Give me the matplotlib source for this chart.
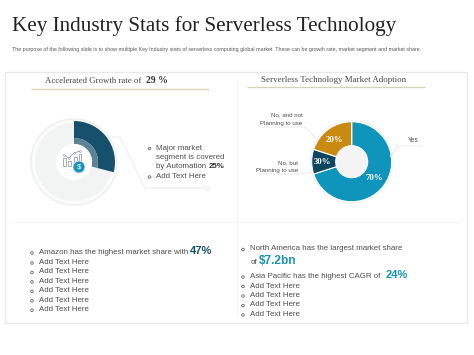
import matplotlib
matplotlib.use('Agg')
import matplotlib.pyplot as plt
from matplotlib.patches import Circle, Rectangle

W, H = 474, 355

# values
growth_values = [29, 71]
adoption_values = [70, 10, 20]
adoption_labels = ['70%', '30%', '20%']
adoption_colors = ['#0f94bb', '#0e4660', '#c98a12']
left_top = ['Major market', 'segment is covered', 'by Automation']
left_bottom = ['Add Text Here'] * 6
right_bottom = ['Add Text Here'] * 4

GREY = '#4d4d4d'
DARK = '#17506c'
BLUE = '#1b93b5'

fig = plt.figure(figsize=(W / 100, H / 100), dpi=100)
ax = fig.add_axes([0, 0, 1, 1])
SANS = 'Liberation Sans'
SERIF = 'Liberation Serif'


def yy(y):
    # picture y (from top) to axes y
    return H - y


def txt(x, y, s, size=5.65, color=GREY, family=SANS, **kw):
    kw.setdefault('va', 'center')
    return ax.text(x, yy(y), s, fontsize=size, color=color, family=family, **kw)


def bullet(x, y):
    ax.add_patch(Circle((x, yy(y)), 1.3, fc='white', ec='#666666', lw=0.6, zorder=4))


def line(xs, ys, color='#eeeeee', lw=0.8):
    ax.plot(xs, [yy(v) for v in ys], color=color, lw=lw, solid_capstyle='butt')


# title
txt(12, 26.5, 'Key Industry Stats for Serverless Technology', size=15.25, color='#222222', family=SERIF)
txt(12, 49.5, 'The purpose of the following slide is to show multiple Key Industry stats of serverless computing global market. '
    'These can be growth rate, market segment and market share.', size=3.75, color='#555555')

# panel and dividers
ax.add_patch(Rectangle((5.5, yy(323)), 461.5, 251.5, fc='white', ec='#e8e8e8', lw=0.9))
line([237, 237], [80, 315], color='#f5f5f5')
line([12, 460], [222, 222], color='#f5f5f5')

# panel headings
txt(45, 81, 'Accelerated Growth rate of', size=6.3, color='#444444', family=SERIF)
txt(146, 80.5, '29 %', size=7, color='#333333', family=SERIF, fontweight='bold')
line([31, 209], [88.5, 88.5], color='#d8d2b0', lw=0.9)
txt(261, 80.5, 'Serverless Technology Market Adoption', size=6.4, color='#444444', family=SERIF)
line([247, 425], [87, 87], color='#d8d2b0', lw=0.9)

# left donut
lx, ly = 74, 162
ax.add_patch(Circle((lx, yy(ly)), 43, fc='#fbfbfb', ec='#eeeeee', lw=1))
ax.add_patch(Circle((lx, yy(ly)), 39, fc='#f2f3f3', ec='none'))
ax.pie(growth_values, colors=[DARK, 'none'], startangle=90, counterclock=False,
       center=(lx, yy(ly)), radius=41, frame=True, wedgeprops=dict(width=17, lw=0))
ax.pie(growth_values, colors=['#5c8496', 'none'], startangle=90, counterclock=False,
       center=(lx, yy(ly)), radius=24, frame=True, wedgeprops=dict(width=6, lw=0))
ax.add_patch(Circle((lx, yy(ly)), 18, fc='white', ec='none', zorder=3))

# chart icon in the hole
for bx, bh in zip([64.5, 69.5, 75.5, 80], [8, 5, 9, 12]):
    ax.add_patch(Rectangle((bx - 1.3, yy(165.5)), 2.6, bh, fc='white', ec='#8a8f94', lw=0.5, zorder=4))
ax.plot([64, 69, 74, 80], [yy(155), yy(158), yy(153), yy(151)], color='#8a8f94', lw=0.5, marker='o', ms=1.3,
        mfc='white', mew=0.4, zorder=4)
ax.add_patch(Circle((79, yy(167)), 6, fc=BLUE, ec='#cfe6ee', lw=0.6, zorder=5))
txt(79, 167.3, '$', size=5.5, color='white', ha='center', zorder=6)

# callout
line([112, 120, 145, 207], [137, 137, 188, 188], color='#e9ecec', lw=0.7)
ax.plot([207], [yy(188)], 'o', ms=2.5, mfc='white', mec='#e4e4e4', mew=0.5)

for i, s in enumerate(left_top):
    txt(156, 148 + i * 9.5, s)
bullet(149.5, 148.5)
txt(208.5, 167, '25%', color='#333333', fontweight='bold')
bullet(149.5, 177)
txt(156, 176.5, 'Add Text Here')

# right donut
rx, ry = 351.7, 161.7
ax.add_patch(Circle((rx, yy(ry)), 42, fc='#f4f4f4', ec='none'))
wedges, _ = ax.pie(adoption_values, colors=adoption_colors, startangle=90, counterclock=False,
                   center=(rx, yy(ry)), radius=40, frame=True,
                   wedgeprops=dict(width=24, ec='white', lw=0.8))
for (px, py), s in zip([(374, 178.5), (322.5, 162), (334.5, 139.5)], adoption_labels):
    txt(px, py, s, size=6.3, color='white', family=SERIF, ha='center', fontweight='bold')

txt(302.5, 115, 'No, and not', size=4.4, ha='right')
txt(302.5, 123, 'Planning to use', size=4.4, ha='right')
line([260, 305, 316], [127, 127, 138], color='#e9e9e9', lw=0.7)
txt(298, 163, 'No, but', size=4.4, ha='right')
txt(298, 170.5, 'Planning to use', size=4.4, ha='right')
line([256, 300, 312], [174, 174, 172], color='#e9e9e9', lw=0.7)
txt(408, 140.5, 'Yes', size=4.7, ha='left')
line([390, 398, 423], [157, 146, 146], color='#e9e9e9', lw=0.7)

# bottom left list
bullet(32, 253)
txt(39, 252, 'Amazon has the highest market share with')
txt(190, 251, '47%', size=8, color=DARK, fontweight='bold')
for i, s in enumerate(left_bottom):
    bullet(32, 263 + i * 9.45)
    txt(39, 262.5 + i * 9.45, s)

# bottom right list
bullet(243, 249.5)
txt(250.5, 248.5, 'North America has the largest market share')
txt(250.5, 262, 'of')
txt(259, 261, '$7.2bn', size=8.6, color=BLUE, fontweight='bold')
bullet(243, 277)
txt(250.5, 276, 'Asia Pacific has the highest CAGR of')
txt(385.5, 274.5, '24%', size=8, color=BLUE, fontweight='bold')
for i, s in enumerate(right_bottom):
    bullet(243, 286.5 + i * 9.5)
    txt(250.5, 286 + i * 9.5, s)

ax.set_xlim(0, W)
ax.set_ylim(0, H)
ax.set_aspect('auto')
ax.axis('off')

fig.savefig('out.png', dpi=100, facecolor='white')
